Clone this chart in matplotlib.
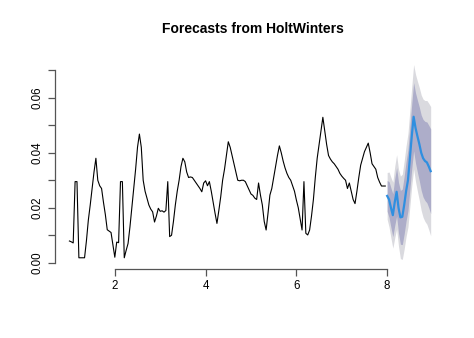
import numpy as np
import matplotlib
matplotlib.use("Agg")
import matplotlib.pyplot as plt

plt.rcParams['font.family'] = ['Liberation Sans', 'DejaVu Sans']

# Observed series (frequency 24, starting at t = 1)
start, freq = 1, 24
observed = [
    0.0079, 0.0076, 0.0072, 0.0295, 0.0295, 0.0018, 0.0018, 0.0018, 0.0018, 0.0080,
    0.0155, 0.0210, 0.0270, 0.0330, 0.0380, 0.0300, 0.0280, 0.0270, 0.0220, 0.0175,
    0.0120, 0.0115, 0.0110, 0.0065, 0.0020, 0.0075, 0.0073, 0.0295, 0.0295, 0.0018,
    0.0045, 0.0070, 0.0130, 0.0200, 0.0272, 0.0340, 0.0420, 0.0468, 0.0420, 0.0300,
    0.0260, 0.0235, 0.0210, 0.0195, 0.0185, 0.0148, 0.0170, 0.0198, 0.0187, 0.0189,
    0.0184, 0.0190, 0.0295, 0.0095, 0.0100, 0.0150, 0.0210, 0.0260, 0.0300, 0.0350,
    0.0380, 0.0367, 0.0330, 0.0310, 0.0312, 0.0310, 0.0300, 0.0290, 0.0280, 0.0270,
    0.0258, 0.0290, 0.0298, 0.0280, 0.0295, 0.0260, 0.0220, 0.0180, 0.0143, 0.0190,
    0.0240, 0.0300, 0.0340, 0.0390, 0.0440, 0.0420, 0.0390, 0.0360, 0.0330, 0.0300,
    0.0298, 0.0300, 0.0300, 0.0295, 0.0280, 0.0265, 0.0250, 0.0245, 0.0235, 0.0230,
    0.0290, 0.0246, 0.0210, 0.0150, 0.0119, 0.0180, 0.0246, 0.0270, 0.0310, 0.0349,
    0.0390, 0.0425, 0.0400, 0.0370, 0.0345, 0.0325, 0.0310, 0.0300, 0.0280, 0.0260,
    0.0228, 0.0200, 0.0160, 0.0119, 0.0295, 0.0107, 0.0101, 0.0119, 0.0170, 0.0230,
    0.0310, 0.0380, 0.0430, 0.0480, 0.0529, 0.0480, 0.0430, 0.0390, 0.0377, 0.0367,
    0.0360, 0.0350, 0.0340, 0.0325, 0.0315, 0.0307, 0.0300, 0.0270, 0.0290, 0.0260,
    0.0230, 0.0215, 0.0260, 0.0310, 0.0355, 0.0380, 0.0404, 0.0420, 0.0435, 0.0400,
    0.0360, 0.0350, 0.0340, 0.0310, 0.0293, 0.0279, 0.0279, 0.0279,
]

# Point forecasts (start at t = 8)
fc_start = 8
forecast = [
    0.0243, 0.0230, 0.0200, 0.0173, 0.0220, 0.0258, 0.0200, 0.0165, 0.0167, 0.0210,
    0.0260, 0.0300, 0.0380, 0.0460, 0.0531, 0.0490, 0.0460, 0.0432, 0.0400, 0.0380,
    0.0370, 0.0365, 0.0350, 0.0333,
]
# Half-widths of the 80% and 95% prediction intervals
hw80 = [
    0.0056, 0.0065, 0.0072, 0.0078, 0.0085, 0.0088, 0.0092, 0.0098, 0.0101, 0.0105,
    0.0108, 0.0111, 0.0114, 0.0118, 0.0124, 0.0128, 0.0131, 0.0134, 0.0137, 0.0141,
    0.0144, 0.0147, 0.0150, 0.0154,
]
hw95 = [
    0.0085, 0.0100, 0.0110, 0.0120, 0.0130, 0.0135, 0.0140, 0.0150, 0.0155, 0.0160,
    0.0165, 0.0170, 0.0175, 0.0180, 0.0190, 0.0195, 0.0200, 0.0205, 0.0210, 0.0215,
    0.0220, 0.0225, 0.0230, 0.0235,
]

x_ticks = [2, 4, 6, 8]
y_ticks = [0.00, 0.02, 0.04, 0.06]
title = "Forecasts from HoltWinters"

obs = np.array(observed)
fc = np.array(forecast)
h80 = np.array(hw80)
h95 = np.array(hw95)
t_obs = start + np.arange(len(obs)) / freq
t_fc = fc_start + np.arange(len(fc)) / freq

fig = plt.figure(figsize=(4.74, 3.38), dpi=100)
ax = fig.add_axes([0.116, 0.204, 0.823, 0.632])

ax.fill_between(t_fc, fc - h95, fc + h95, color="#DADADF", linewidth=0)
ax.fill_between(t_fc, fc - h80, fc + h80, color="#ADADC9", linewidth=0)
ax.plot(t_obs, obs, color="black", linewidth=0.8)
ax.plot(t_fc, fc, color="#2F8FE0", linewidth=1.6)

ax.set_xlim(0.682, 9.276)
ax.set_ylim(-0.0023, 0.0754)

for s in ["top", "right"]:
    ax.spines[s].set_visible(False)
ax.spines["left"].set_bounds(0.0, 0.07)
ax.spines["bottom"].set_bounds(2, 8)
for s in ["left", "bottom"]:
    ax.spines[s].set_color("#555555")
    ax.spines[s].set_linewidth(0.9)

ax.set_xticks(x_ticks)
ax.set_xticklabels([str(v) for v in x_ticks])
ax.set_yticks([0.0, 0.01, 0.02, 0.03, 0.04, 0.05, 0.06, 0.07])
ax.set_yticklabels(["0.00", "", "0.02", "", "0.04", "", "0.06", ""],
                   rotation=90, va="center")
ax.tick_params(axis="both", length=5, width=0.9, color="#555555",
               labelsize=8.3, pad=3)

fig.suptitle(title, x=0.534, y=0.935, fontsize=10, fontweight="bold")

fig.savefig("out.png", dpi=100)
